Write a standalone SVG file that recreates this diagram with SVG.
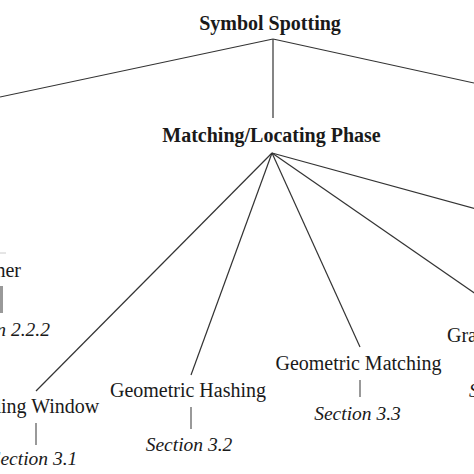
<svg xmlns="http://www.w3.org/2000/svg" width="474" height="474" viewBox="0 0 474 474">
<style>
text{font-family:"Liberation Serif","Times New Roman",serif;fill:#1a1a1a}
.b{font-weight:bold;font-size:20px}
.r{font-size:20px}
.i{font-style:italic;font-size:19.5px}
.c{text-anchor:middle}
.ln{stroke:#333;stroke-width:1.2;fill:none}
.sec{stroke:#555;stroke-width:1.2;fill:none}
</style>
<rect width="474" height="474" fill="#fff"/>
<g id="connectors">
<line class="ln" x1="273" y1="39" x2="0" y2="97"/>
<line class="ln" x1="273" y1="39" x2="474" y2="83"/>
<line class="ln" x1="273" y1="39" x2="273" y2="118"/>
<line class="ln" x1="272" y1="153" x2="36" y2="391"/>
<line class="ln" x1="272" y1="153" x2="191" y2="375"/>
<line class="ln" x1="272" y1="153" x2="360" y2="347"/>
<line class="ln" x1="272" y1="153" x2="480" y2="297"/>
<line class="ln" x1="272" y1="153" x2="480" y2="210"/>
<line class="sec" x1="36" y1="423" x2="36" y2="445"/>
<line class="sec" x1="191" y1="407" x2="191" y2="429"/>
<line class="sec" x1="360" y1="380" x2="360" y2="397"/>
<rect x="0" y="286" width="3" height="27" fill="#999"/>
<line x1="0" y1="253" x2="6" y2="253" stroke="#ccc" stroke-width="1"/>
</g>
<g id="symbol-spotting"><text class="b c" x="270" y="30">Symbol Spotting</text></g>
<g id="matching-locating"><text class="b c" x="271.5" y="142">Matching/Locating Phase</text></g>
<g id="left-node">
<text class="r" x="21" y="277" text-anchor="end">her</text>
<text class="i" x="50" y="336" text-anchor="end">Section 2.2.2</text>
</g>
<g id="sliding-window">
<text class="r c" x="34" y="413">Sliding Window</text>
<text class="i c" x="34" y="465">Section 3.1</text>
</g>
<g id="geometric-hashing">
<text class="r c" x="188" y="397">Geometric Hashing</text>
<text class="i c" x="189" y="451">Section 3.2</text>
</g>
<g id="geometric-matching">
<text class="r c" x="358.5" y="370">Geometric Matching</text>
<text class="i c" x="357.5" y="420">Section 3.3</text>
</g>
<g id="right-node">
<text class="r" x="447" y="342">Gra</text>
<text class="i" x="469" y="397">S</text>
</g>
</svg>
